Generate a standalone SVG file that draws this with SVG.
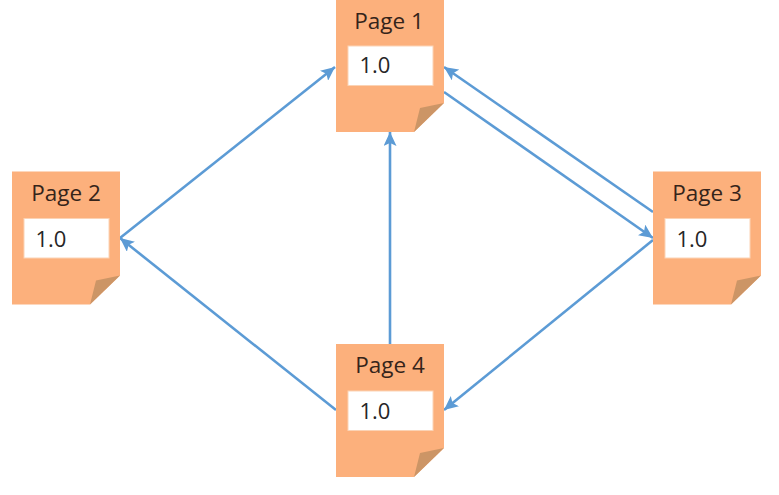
<svg xmlns="http://www.w3.org/2000/svg" width="779" height="495" viewBox="0 0 779 495">
<style>
.page{fill:#fcb07c}
.fold{fill:#cc9566}
.field{fill:#fff;stroke:#fbd3b5;stroke-width:1}
.title{font-family:"Open Sans",sans-serif;font-size:22.500px;fill:#35241a;text-anchor:middle}
.value{font-family:"Open Sans",sans-serif;font-size:22px;fill:#262626}
.edge{fill:none;stroke:#5c9bd5;stroke-width:2.6;marker-end:url(#arrow)}
</style>
<defs>
<marker id="arrow" markerUnits="userSpaceOnUse" markerWidth="15" markerHeight="13" refX="14" refY="6.500" orient="auto">
<path d="M0 0L14 6.500L0 13L3 6.500Z" fill="#5c9bd5"/>
</marker>
<g id="doc">
<path class="page" d="M0 0H108V104L78 133H0Z"/>
<path class="fold" d="M108 104L78 133L84 109Z"/>
<rect class="field" x="12" y="47" width="85" height="39.500"/>
</g>
</defs>
<rect width="779" height="495" fill="#fff"/>
<g id="connectors">
<path class="edge" d="M120 238L335 67"/>
<path class="edge" d="M336 410L120 238"/>
<path class="edge" d="M390 344V132"/>
<path class="edge" d="M653 212L444 67"/>
<path class="edge" d="M444 92L653 238"/>
<path class="edge" d="M653 240L444 410"/>
</g>
<g id="page1"><use href="#doc" x="336" y="-1"/><text class="title" x="389" y="29">Page 1</text><text class="value" x="359.500" y="73">1.0</text></g>
<g id="page2"><use href="#doc" x="12" y="171.500"/><text class="title" x="66" y="201">Page 2</text><text class="value" x="35.500" y="247">1.0</text></g>
<g id="page3"><use href="#doc" x="653" y="171.500"/><text class="title" x="707" y="201">Page 3</text><text class="value" x="676.500" y="247">1.0</text></g>
<g id="page4"><use href="#doc" x="336" y="344"/><text class="title" x="390" y="373">Page 4</text><text class="value" x="359.500" y="419">1.0</text></g>
</svg>
